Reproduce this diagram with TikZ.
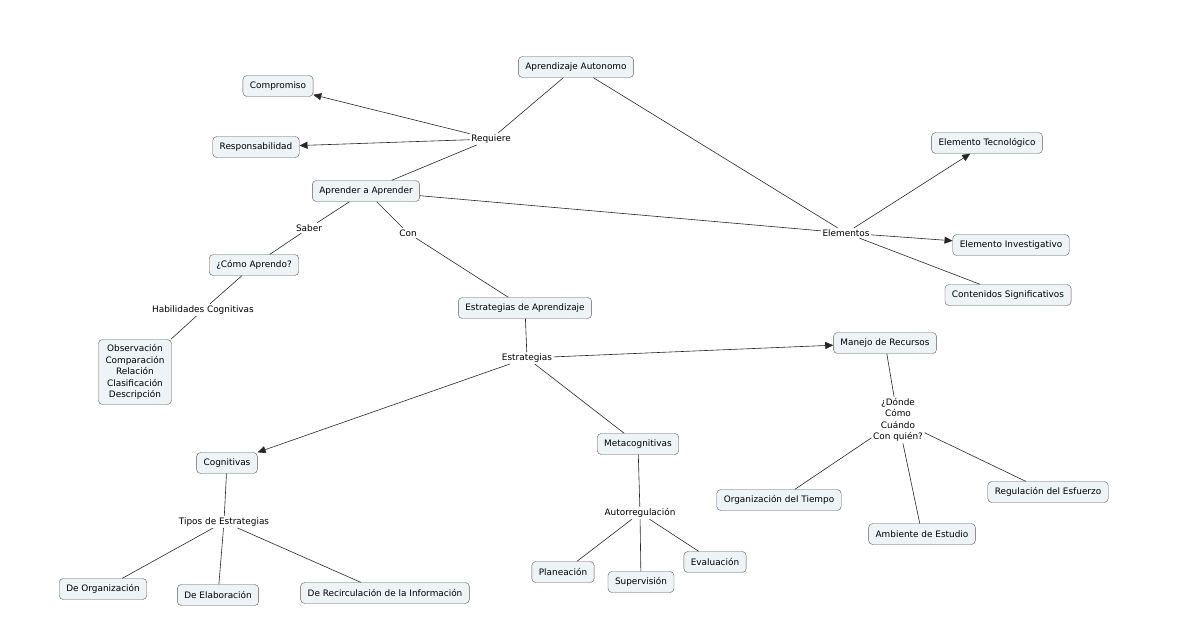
\documentclass[tikz,border=0pt]{standalone}
\usepackage{fontspec}
\setmainfont{DejaVu Sans}
\usepackage{xcolor}
\usetikzlibrary{arrows.meta}

\definecolor{cmapfill}{HTML}{EEF3F5}

\begin{document}
\begin{tikzpicture}[
        x=1pt, y=-1pt,
        font=\fontsize{8.9}{11.5}\selectfont,
        concept/.style={rectangle, rounded corners=4pt, minimum height=21pt, inner xsep=7pt, text centered, draw=black!65, fill=cmapfill},
        phrase/.style={inner sep=1.5pt, text centered},
        link/.style={draw=black!85, line width=0.6pt},
        arrow/.style={link, -{Triangle[length=8pt, width=7pt]}}
    ]
    \useasboundingbox (0,0) rectangle (1200,630);

    \node (auto) [concept] at (576,67) {Aprendizaje Autonomo};
    \node (comp) [concept] at (278,86) {Compromiso};
    \node (resp) [concept] at (256,147) {Responsabilidad};
    \node (aprender) [concept] at (366,191) {Aprender a Aprender};
    \node (como) [concept] at (254,265) {¿Cómo Aprendo?};
    \node (habil) [concept, align=center, inner ysep=5pt] at (135,372) {Observación\\Comparación\\Relación\\Clasificación\\Descripción};
    \node (estapr) [concept] at (525,308) {Estrategias de Aprendizaje};
    \node (manejo) [concept] at (885,343) {Manejo de Recursos};
    \node (cogn) [concept] at (227,463) {Cognitivas};
    \node (meta) [concept] at (638,444) {Metacognitivas};
    \node (deorg) [concept] at (103,589) {De Organización};
    \node (deelab) [concept] at (218,595) {De Elaboración};
    \node (derec) [concept] at (385,593) {De Recirculación de la Información};
    \node (plan) [concept] at (563,572) {Planeación};
    \node (superv) [concept] at (641,582) {Supervisión};
    \node (eval) [concept] at (715,562) {Evaluación};
    \node (tecno) [concept] at (987,143) {Elemento Tecnológico};
    \node (invest) [concept] at (1011,245) {Elemento Investigativo};
    \node (conten) [concept] at (1008,295) {Contenidos Significativos};
    \node (tiempo) [concept] at (779,500) {Organización del Tiempo};
    \node (ambiente) [concept] at (922,534) {Ambiente de Estudio};
    \node (esfuerzo) [concept] at (1048,492) {Regulación del Esfuerzo};

    % linking phrases
    \node (requiere) [phrase] at (491,139) {Requiere};
    \node (saber) [phrase] at (309,228) {Saber};
    \node (con) [phrase] at (408,233) {Con};
    \node (habilcog) [phrase] at (203,310) {Habilidades Cognitivas};
    \node (estrat) [phrase] at (527,358) {Estrategias};
    \node (tipos) [phrase] at (224,522) {Tipos de Estrategias};
    \node (autorreg) [phrase] at (640,513) {Autorregulación};
    \node (elementos) [phrase] at (846,233) {Elementos};
    \node (donde) [phrase, align=center] at (898,420) {¿Dónde\\Cómo\\Cuándo\\Con quién?};

    \draw [link] (auto) -- (requiere);
    \draw [link] (requiere) -- (aprender);
    \draw [arrow] (requiere) -- (comp);
    \draw [arrow] (requiere) -- (resp);

    \draw [link] (auto) -- (elementos);
    \draw [link] (aprender) -- (elementos);
    \draw [arrow] (elementos) -- (tecno);
    \draw [arrow] (elementos) -- (invest);
    \draw [link] (elementos) -- (conten);

    \draw [link] (aprender) -- (saber);
    \draw [link] (saber) -- (como);
    \draw [link] (como) -- (habilcog);
    \draw [link] (habilcog) -- (habil);

    \draw [link] (aprender) -- (con);
    \draw [link] (con) -- (estapr);
    \draw [link] (estapr) -- (estrat);
    \draw [arrow] (estrat) -- (cogn);
    \draw [link] (estrat) -- (meta);
    \draw [arrow] (estrat) -- (manejo);

    \draw [link] (cogn) -- (tipos);
    \draw [link] (tipos) -- (deorg);
    \draw [link] (tipos) -- (deelab);
    \draw [link] (tipos) -- (derec);

    \draw [link] (meta) -- (autorreg);
    \draw [link] (autorreg) -- (plan);
    \draw [link] (autorreg) -- (superv);
    \draw [link] (autorreg) -- (eval);

    \draw [link] (manejo) -- (donde);
    \draw [link] (donde) -- (tiempo);
    \draw [link] (donde) -- (ambiente);
    \draw [link] (donde) -- (esfuerzo);

\end{tikzpicture}
\end{document}
